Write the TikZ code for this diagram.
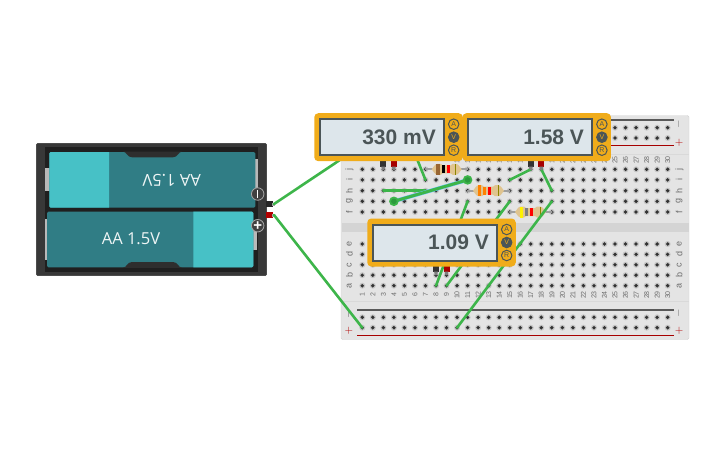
\documentclass[tikz,border=0pt]{standalone}
\usepackage{fontspec}
\usetikzlibrary{calc}
\setmainfont{Liberation Sans}
\newfontfamily\batfont{Open Sans}
\definecolor{wire}{HTML}{3DB54A}
\definecolor{wiredk}{HTML}{2C9A3C}
\definecolor{boardc}{HTML}{E4E4E4}
\definecolor{chan}{HTML}{D4D4D4}
\definecolor{mframe}{HTML}{F0AC1A}
\definecolor{mscreen}{HTML}{DDE6EB}
\definecolor{mdark}{HTML}{4B5557}
\definecolor{teal}{HTML}{307D85}
\definecolor{aqua}{HTML}{47C1C6}
\definecolor{tan}{HTML}{E0C48F}
\tikzset{
 wireline/.style={draw=wire,line width=2.6pt,line cap=round},
 lead/.style={draw=gray!75,line width=1.7pt,line cap=round},
 lab/.style={text=gray!85!black,font=\fontsize{7}{7}\selectfont,inner sep=0pt,rotate=90},
 sign/.style={font=\fontsize{11}{11}\selectfont,inner sep=0pt},
 meter/.style={draw=none,fill=mframe,rounded corners=4pt,minimum width=148.5pt,minimum height=48pt,inner sep=0pt},
 screen/.style={draw=mdark,line width=2pt,fill=mscreen,minimum width=124pt,minimum height=36pt,inner sep=0pt},
 reading/.style={text=mdark,font=\bfseries\fontsize{21}{21}\selectfont,inner sep=0pt,anchor=east},
 btn/.style={circle,draw=mdark,line width=1pt,minimum size=10.5pt,inner sep=0pt,text=mdark,font=\fontsize{7}{7}\selectfont},
 btnon/.style={btn,fill=mdark,text=mframe},
 battext/.style={text=white!92!teal,font=\batfont\fontsize{16.5}{17}\selectfont,inner sep=0pt},
 term/.style={circle,draw=gray!70,line width=.8pt,fill=black!75,minimum size=12.5pt,inner sep=0pt,text=white,font=\bfseries\fontsize{15}{15}\selectfont},
}
\newcommand{\probes}[2]{% x position of black probe, top y
 \fill[black!80] (#1-3,#2) rectangle (#1+3,#2+5.5);
 \fill[gray] (#1-2,#2+5.5) -- (#1+2,#2+5.5) -- (#1+1,#2+9) -- (#1-1,#2+9) -- cycle;
 \fill[red!65!black] (#1+10.5-3,#2) rectangle (#1+10.5+3,#2+5.5);
 \fill[gray] (#1+10.5-2,#2+5.5) -- (#1+10.5+2,#2+5.5) -- (#1+10.5+1,#2+9) -- (#1+10.5-1,#2+9) -- cycle;
}
\newcommand{\resistor}[7]{% left,right,y,band colours
 \fill[tan] (#1,#3) .. controls (#1+2,#3-2) and (#1+3,#3-5.5) .. (#1+6,#3-5.5) -- (#1+9,#3-5.5) -- (#1+11,#3-4) -- (#2-11,#3-4) -- (#2-9,#3-5.5) -- (#2-6,#3-5.5) .. controls (#2-3,#3-5.5) and (#2-2,#3-2) .. (#2,#3)
   .. controls (#2-2,#3+2) and (#2-3,#3+5.5) .. (#2-6,#3+5.5) -- (#2-9,#3+5.5) -- (#2-11,#3+4) -- (#1+11,#3+4) -- (#1+9,#3+5.5) -- (#1+6,#3+5.5) .. controls (#1+3,#3+5.5) and (#1+2,#3+2) .. (#1,#3) -- cycle;
 \fill[#4] (#1+4.5,#3-5.5) rectangle (#1+8,#3+5.5);
 \fill[#5] (#1+10,#3-4) rectangle (#1+13,#3+4);
 \fill[#6] (#1+15,#3-4) rectangle (#1+18,#3+4);
 \fill[#7] (#2-6.5,#3-5.5) rectangle (#2-5.5,#3+5.5);
}
\begin{document}
\begin{tikzpicture}[x=1pt,y=-1pt]
\useasboundingbox (0,0) rectangle (725,453);
% ---- breadboard
\node[draw=gray!35,fill=boardc,rounded corners=1.5pt,minimum width=348pt,minimum height=224pt,inner sep=0pt] (board) at (515,227.5) {};
\fill[chan] (341.5,223) rectangle (688.5,232);
\draw[gray!30,line width=.7pt] (341.5,154.3) -- (688.5,154.3) (341.5,301.7) -- (688.5,301.7);
\draw[black!65,line width=1.1pt] (357,120) -- (674,120) (357,310) -- (674,310);
\draw[red!65!black,line width=1.1pt] (357,145.7) -- (674,145.7) (357,335.3) -- (674,335.3);
\node[sign,text=gray!80!black,rotate=90] (s1) at (679,124) {$-$};
\node[sign,text=red!70!black] (s2) at (679,143) {$+$};
\node[sign,text=black!70,rotate=90] (s3) at (349,314) {$-$};
\node[sign,text=red!70!black] (s4) at (349,331) {$+$};
\node[sign,text=gray!80!black,rotate=90] (s5) at (679,313) {$-$};
\node[sign,text=red!70!black] (s6) at (679,331) {$+$};
% holes
\foreach \n/\yy in {j/169.3,i/179.9,h/190.7,g/201.3,f/212,e/244,d/254.4,c/264.8,b/275.2,a/285.7,tm/127.7,tp/138,bm/317.3,bp/327.7}{
 \foreach \c in {1,...,30}{
  \pgfmathsetmacro{\xx}{362.3+(\c-1)*10.53}
  \coordinate (h-\c-\n) at (\xx,\yy);
  \fill[gray!45] (h-\c-\n) circle (3);
  \fill[black!80] (h-\c-\n) circle (1.9);
 }}
% labels
\foreach \c in {1,...,30}{
  \pgfmathsetmacro{\xx}{362.3+(\c-1)*10.53}
  \node[lab] (nt\c) at (\xx,160) {\c};
  \node[lab] (nb\c) at (\xx,295) {\c};
}
\foreach \n in {a,b,c,d,e,f,g,h,i,j}{
  \node[lab,font=\fontsize{9}{9}\selectfont,anchor=center] (ll\n) at ($(h-1-\n)+(-13,0)$) {\n};
  \node[lab,font=\fontsize{9}{9}\selectfont,anchor=center] (lr\n) at ($(h-30-\n)+(11.5,0)$) {\n};
}
% ---- battery holder
\node[draw=gray!60!black,line width=.6pt,fill=black!78,rounded corners=1pt,minimum width=230pt,minimum height=132pt,inner sep=0pt] (holder) at (151.5,209.5) {};
\fill[black!88] (45,147) rectangle (258,271.7);
% contacts
\fill[gray!55] (45,168) rectangle (49.5,191);
\fill[gray!55] (255,159) rectangle (258,200);
\fill[gray!55] (44.5,219) rectangle (47.5,260);
\fill[gray!55] (253,230) rectangle (257,250);
% cells
\node[fill=teal,rounded corners=1.5pt,minimum width=206pt,minimum height=55.7pt,inner sep=0pt] (cell1) at (152.3,179.85) {};
\node[fill=teal,rounded corners=1.5pt,minimum width=206.3pt,minimum height=55.6pt,inner sep=0pt] (cell2) at (150.15,239.5) {};
\fill[aqua] (50.6,152) -- (109,152) -- (109,207.7) -- (50.6,207.7) arc (90:180:1.3) -- (49.3,153.3) arc (180:270:1.3) -- cycle;
\fill[aqua] (193.3,211.7) -- (252,211.7) arc (-90:0:1.3) -- (253.3,266) arc (0:90:1.3) -- (193.3,267.3) -- cycle;
% notches
\fill[black!82] (123,151.5) .. controls (127,152) and (127,157.3) .. (132,157.3) -- (173,157.3) .. controls (178,157.3) and (178,152) .. (182,151.5) -- cycle;
\fill[black!82] (123,267.8) .. controls (127,267.3) and (127,262) .. (132,262) -- (173,262) .. controls (178,262) and (178,267.3) .. (182,267.8) -- cycle;
\node[battext,rotate=180] (t1) at (171.7,180) {AA 1.5V};
\node[battext] (t2) at (131,239) {AA 1.5V};
% terminal leads
\coordinate (batneg) at (274,204);
\coordinate (batpos) at (274,215);
\fill[black!85] (266,201) rectangle (272.5,207);
\fill[gray!70] (272,202.5) rectangle (275,205.5);
\fill[red!70!black] (266,212) rectangle (272.5,218);
\fill[gray!70] (272,213.5) rectangle (275,216.5);
\node[term] (tneg) at (257.7,194) {\rule{1.2pt}{8pt}};
\node[term] (tpos) at (257.7,225.7) {+};
% ---- resistors
\draw[lead] (h-7-j) -- (h-11-j);
\resistor{431.7}{461.7}{169.3}{brown!80!black}{black}{red}{olive}
\draw[lead] (h-11-h) -- (h-15-h);
\resistor{473}{504}{190.7}{orange}{orange}{red}{olive}
\draw[lead] (h-15-f) -- (h-19-f);
\resistor{515}{546}{212}{yellow}{gray}{red}{olive}
% ---- wires
\draw[wireline] (batneg) -- (h-2-tp);
\draw[wireline] (batpos) -- (h-1-bp);
\draw[wireline] (h-5-tm) -- (h-7-i);
\draw[wireline] (h-3-h) -- (h-7-h);
\draw[wireline] (h-11-g) -- (h-8-a);
\draw[wireline] (h-9-a) -- (h-15-g);
\draw[wireline] (h-15-i) -- (h-17-j);
\draw[wireline] (h-18-j) -- (h-19-h);
\draw[wireline] (h-19-g) -- (h-10-bp);
\draw[blue!40!cyan!60,line width=3.8pt] (h-4-g) -- (h-11-i);
\draw[wire,line width=3pt] (h-4-g) -- (h-11-i);
\foreach \e in {h-4-g,h-11-i}{ \fill[wire] (\e) circle (4.8); \fill[wiredk] (\e) circle (2.8); }
% ---- probes
\probes{383.3}{161}
\probes{530.8}{161}
\probes{436}{266}
% ---- meters
\foreach \nm/\x/\y/\val in {m1/388.5/137.2/330 mV,m2/536.7/137.2/1.58 V,m3/441.5/242.5/1.09 V}{
 \node[meter] (\nm) at (\x,\y) {};
 \node[screen] (\nm s) at ($(\nm)+(-7,0)$) {};
 \node[reading] (\nm r) at ($(\nm)+(47.5,0)$) {\val};
 \node[btn] (\nm a) at ($(\nm)+(65.2,-13)$) {A};
 \node[btnon] (\nm v) at ($(\nm)+(65.2,0)$) {V};
 \node[btn] (\nm o) at ($(\nm)+(65.2,13)$) {R};
}
\end{tikzpicture}
\end{document}
